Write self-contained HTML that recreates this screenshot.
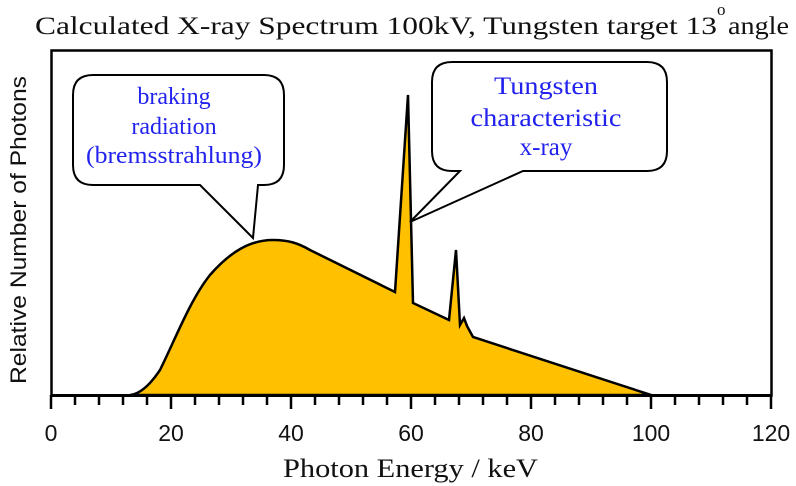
<!DOCTYPE html>
<html><head><meta charset="utf-8"><style>
html,body{margin:0;padding:0;background:#fff;}
svg{display:block;}
</style></head><body>
<svg width="796" height="486" viewBox="0 0 796 486" xmlns="http://www.w3.org/2000/svg">
<text x="35" y="34" font-family="Liberation Serif, serif" font-size="25" fill="#111" textLength="682" lengthAdjust="spacingAndGlyphs">Calculated X-ray Spectrum  100kV, Tungsten target 13</text>
<text x="717" y="15" font-family="Liberation Serif, serif" font-size="17" fill="#111">o</text>
<text x="728" y="34" font-family="Liberation Serif, serif" font-size="25" fill="#111" textLength="61" lengthAdjust="spacingAndGlyphs">angle</text>
<rect x="51.5" y="50.5" width="720" height="345" fill="none" stroke="#000" stroke-width="2.5"/>
<path d="M130,395 C140,394 150,385 160,370 C175,340 190,300 210,275 C230,252 250,240 273,240 C288,240 298,243 310,250 L395,292 L408,95 L413,303 L449,320 L456,250 L460,325 L464,318 L467,326 L473,337 L651,395 Z" fill="#FFC000" stroke="#000" stroke-width="2.5" stroke-linejoin="miter"/>
<line x1="51" y1="395.5" x2="772" y2="395.5" stroke="#000" stroke-width="3"/>
<g stroke="#000" stroke-width="2.5">
<line x1="51" y1="395" x2="51" y2="409"/><line x1="171" y1="395" x2="171" y2="409"/><line x1="291" y1="395" x2="291" y2="409"/><line x1="411" y1="395" x2="411" y2="409"/><line x1="531" y1="395" x2="531" y2="409"/><line x1="651" y1="395" x2="651" y2="409"/><line x1="771" y1="395" x2="771" y2="409"/>
</g>
<g stroke="#000" stroke-width="2.5">
<line x1="75" y1="395" x2="75" y2="405"/><line x1="99" y1="395" x2="99" y2="405"/><line x1="123" y1="395" x2="123" y2="405"/><line x1="147" y1="395" x2="147" y2="405"/>
<line x1="195" y1="395" x2="195" y2="405"/><line x1="219" y1="395" x2="219" y2="405"/><line x1="243" y1="395" x2="243" y2="405"/><line x1="267" y1="395" x2="267" y2="405"/>
<line x1="315" y1="395" x2="315" y2="405"/><line x1="339" y1="395" x2="339" y2="405"/><line x1="363" y1="395" x2="363" y2="405"/><line x1="387" y1="395" x2="387" y2="405"/>
<line x1="435" y1="395" x2="435" y2="405"/><line x1="459" y1="395" x2="459" y2="405"/><line x1="483" y1="395" x2="483" y2="405"/><line x1="507" y1="395" x2="507" y2="405"/>
<line x1="555" y1="395" x2="555" y2="405"/><line x1="579" y1="395" x2="579" y2="405"/><line x1="603" y1="395" x2="603" y2="405"/><line x1="627" y1="395" x2="627" y2="405"/>
<line x1="675" y1="395" x2="675" y2="405"/><line x1="699" y1="395" x2="699" y2="405"/><line x1="723" y1="395" x2="723" y2="405"/><line x1="747" y1="395" x2="747" y2="405"/>
</g>
<g font-family="Liberation Sans Narrow, Liberation Sans, sans-serif" font-size="23" fill="#111" text-anchor="middle">
<text x="51" y="441">0</text><text x="171" y="441">20</text><text x="291" y="441">40</text><text x="411" y="441">60</text><text x="531" y="441">80</text><text x="651" y="441">100</text><text x="771" y="441">120</text>
</g>
<text x="283" y="477" font-family="Liberation Serif, serif" font-size="26" fill="#111" textLength="255" lengthAdjust="spacingAndGlyphs">Photon Energy / keV</text>
<text transform="translate(26,384) rotate(-90)" font-family="Liberation Sans, sans-serif" font-size="22" fill="#111" textLength="308" lengthAdjust="spacingAndGlyphs">Relative Number of Photons</text>
<path d="M93,75 L264,75 Q284,75 284,95 L284,165 Q284,185 264,185 L258,185 L253,238 L200,185 L93,185 Q73,185 73,165 L73,95 Q73,75 93,75 Z" fill="#fff" stroke="#000" stroke-width="2"/>
<g font-family="Liberation Serif, serif" font-size="24" fill="#2222ee" text-anchor="middle">
<text x="174" y="104">braking</text><text x="174" y="134">radiation</text><text x="174" y="163" textLength="176" lengthAdjust="spacingAndGlyphs">(bremsstrahlung)</text>
</g>
<path d="M452,62 L647,62 Q667,62 667,82 L667,151 Q667,171 647,171 L523,171 L410,222 L460,171 L452,171 Q432,171 432,151 L432,82 Q432,62 452,62 Z" fill="#fff" stroke="#000" stroke-width="2"/>
<g font-family="Liberation Serif, serif" font-size="25" fill="#2222ee" text-anchor="middle">
<text x="546" y="94" textLength="104" lengthAdjust="spacingAndGlyphs">Tungsten</text><text x="546" y="126" textLength="151" lengthAdjust="spacingAndGlyphs">characteristic</text><text x="546" y="155">x-ray</text>
</g>
</svg>
</body></html>
